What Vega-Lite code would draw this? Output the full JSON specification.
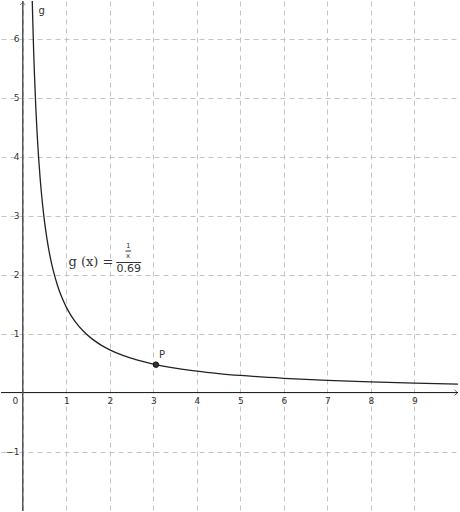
{
  "$schema": "https://vega.github.io/schema/vega-lite/v6.json",
  "width": 460,
  "height": 512,
  "autosize": {"type": "fit", "contains": "padding"},
  "padding": 0,
  "background": "white",
  "config": {"view": {"stroke": null}},
  "datasets": {
    "curve": [
      {"x": 0.218, "y": 6.648}, {"x": 0.23, "y": 6.301}, {"x": 0.25, "y": 5.797}, {"x": 0.27, "y": 5.368},
      {"x": 0.3, "y": 4.831}, {"x": 0.33, "y": 4.392}, {"x": 0.36, "y": 4.026}, {"x": 0.4, "y": 3.623},
      {"x": 0.45, "y": 3.221}, {"x": 0.5, "y": 2.899}, {"x": 0.55, "y": 2.635}, {"x": 0.6, "y": 2.415},
      {"x": 0.65, "y": 2.23}, {"x": 0.7, "y": 2.07}, {"x": 0.8, "y": 1.812}, {"x": 0.9, "y": 1.61},
      {"x": 1.0, "y": 1.449}, {"x": 1.1, "y": 1.318}, {"x": 1.2, "y": 1.208}, {"x": 1.4, "y": 1.035},
      {"x": 1.6, "y": 0.906}, {"x": 1.8, "y": 0.805}, {"x": 2.0, "y": 0.725}, {"x": 2.3, "y": 0.63},
      {"x": 2.6, "y": 0.557}, {"x": 3.0, "y": 0.483}, {"x": 3.5, "y": 0.414}, {"x": 4.0, "y": 0.362},
      {"x": 4.5, "y": 0.322}, {"x": 5.0, "y": 0.29}, {"x": 6.0, "y": 0.242}, {"x": 7.0, "y": 0.207},
      {"x": 8.0, "y": 0.181}, {"x": 9.0, "y": 0.161}, {"x": 10.1, "y": 0.143}
    ],
    "point": [{"x": 3.06, "y": 0.473, "label": "P"}],
    "labels": [
      {"x": 0.436, "y": 6.47, "label": "g"},
      {"x": 3.2, "y": 0.643, "label": "P"}
    ],
    "formula": [{"x": 1.05, "y": 2.213, "label": "g (x) ="}],
    "frac": [
      {"x": 2.422, "y": 2.483, "label": "1", "size": "s"},
      {"x": 2.422, "y": 2.32, "label": "x", "size": "s"},
      {"x": 2.433, "y": 2.09, "label": "0.69", "size": "b"}
    ],
    "bars": [
      {"x": 2.148, "x2": 2.719, "y": 2.205},
      {"x": 2.36, "x2": 2.49, "y": 2.399}
    ],
    "xaxis": [{"x": -0.5, "x2": 10.0, "y": 0}],
    "yaxis": [{"x": 0, "y": -2.007, "y2": 6.637}],
    "arrows": [
      {"x": 9.985, "y": 0, "dir": "right"},
      {"x": 0, "y": 6.615, "dir": "up"}
    ]
  },
  "encoding": {
    "x": {
      "field": "x", "type": "quantitative",
      "scale": {"domain": [-0.5, 10.0], "nice": false, "zero": false},
      "axis": {
        "orient": "bottom", "offset": -118.9, "domain": false, "ticks": false,
        "values": [0, 1, 2, 3, 4, 5, 6, 7, 8, 9],
        "labelPadding": 4, "labelFontSize": 9, "labelFont": "DejaVu Sans", "labelColor": "#333333",
        "labelOffset": {"condition": {"test": "datum.value === 0", "value": -8}, "value": 0},
        "grid": true, "gridDash": [5, 4], "gridColor": "#c4c4c4", "gridWidth": 1,
        "title": null
      }
    },
    "y": {
      "field": "y", "type": "quantitative",
      "scale": {"domain": [-2.007, 6.637], "nice": false, "zero": false},
      "axis": {
        "orient": "left", "offset": -21.9, "domain": false, "ticks": false,
        "values": [-1, 1, 2, 3, 4, 5, 6],
        "labelPadding": 4, "labelFontSize": 9, "labelFont": "DejaVu Sans", "labelColor": "#333333",
        "grid": true, "gridDash": [5, 4], "gridColor": "#c4c4c4", "gridWidth": 1,
        "title": null
      }
    }
  },
  "layer": [
    {
      "data": {"name": "xaxis"},
      "mark": {"type": "rule", "color": "#111111", "strokeWidth": 1},
      "encoding": {"x2": {"field": "x2"}}
    },
    {
      "data": {"name": "yaxis"},
      "mark": {"type": "rule", "color": "#555555", "strokeWidth": 1.5},
      "encoding": {"y2": {"field": "y2"}}
    },
    {
      "data": {"name": "curve"},
      "mark": {"type": "line", "color": "#222222", "strokeWidth": 1.3, "interpolate": "monotone", "clip": true}
    },
    {
      "data": {"name": "arrows"},
      "transform": [{"filter": "datum.dir === 'right'"}],
      "mark": {"type": "point", "shape": "M-1,-1L0,0L-1,1", "filled": false, "stroke": "#111111", "strokeWidth": 1, "size": 30}
    },
    {
      "data": {"name": "arrows"},
      "transform": [{"filter": "datum.dir === 'up'"}],
      "mark": {"type": "point", "shape": "M-1,1L0,0L1,1", "filled": false, "stroke": "#555555", "strokeWidth": 1, "size": 30}
    },
    {
      "data": {"name": "point"},
      "mark": {"type": "point", "shape": "circle", "filled": true, "color": "#333333", "stroke": "#111111", "strokeWidth": 1, "size": 30, "opacity": 1}
    },
    {
      "data": {"name": "labels"},
      "mark": {"type": "text", "align": "center", "baseline": "middle", "font": "DejaVu Sans", "fontSize": 10, "color": "#333333"},
      "encoding": {"text": {"field": "label"}}
    },
    {
      "data": {"name": "formula"},
      "mark": {"type": "text", "align": "left", "baseline": "middle", "font": "DejaVu Serif", "fontSize": 13, "color": "#333333"},
      "encoding": {"text": {"field": "label"}}
    },
    {
      "data": {"name": "frac"},
      "mark": {"type": "text", "align": "center", "baseline": "middle", "font": "DejaVu Sans", "color": "#333333"},
      "encoding": {
        "text": {"field": "label"},
        "size": {"field": "size", "type": "nominal", "scale": {"domain": ["s", "b"], "range": [7, 11]}, "legend": null}
      }
    },
    {
      "data": {"name": "bars"},
      "mark": {"type": "rule", "color": "#333333", "strokeWidth": 1},
      "encoding": {"x2": {"field": "x2"}}
    }
  ]
}
